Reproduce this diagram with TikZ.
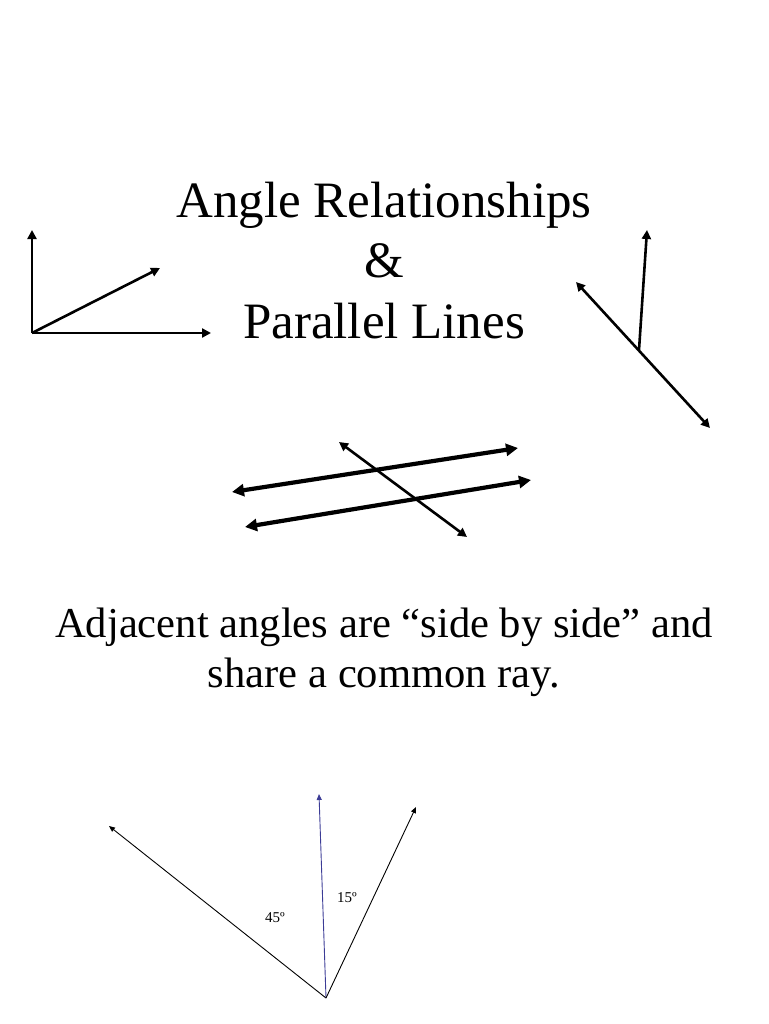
\documentclass[tikz,border=0pt]{standalone}
\usepackage{fontspec}
\setmainfont{Liberation Serif}
\usetikzlibrary{arrows.meta}
\definecolor{raynavy}{RGB}{60,60,150}
\tikzset{
  rayarrow/.style={line width=2.6pt,-{Triangle[length=9pt,width=9pt]}},
  linearrow/.style={line width=2.6pt,{Triangle[length=9pt,width=9pt]}-{Triangle[length=9pt,width=9pt]}},
  parline/.style={line width=4.2pt,{Triangle[length=12pt,width=12pt]}-{Triangle[length=12pt,width=12pt]}},
  thinray/.style={line width=0.9pt,-{Triangle[length=6pt,width=5pt]}},
  textline/.style={anchor=base,inner sep=0pt}
}
\begin{document}
\begin{tikzpicture}[x=1pt,y=-1pt]
\useasboundingbox (0,0) rectangle (768,1024);
% title
\node[textline,font=\fontsize{51}{60}\selectfont] (title1) at (384,218) {Angle Relationships};
\node[textline,font=\fontsize{51}{60}\selectfont] (title2) at (384,277) {\&};
\node[textline,font=\fontsize{51}{60}\selectfont] (title3) at (384,338) {Parallel Lines};
% angle top left
\coordinate (tlv) at (32,333);
\coordinate (tlup) at (32,230);
\coordinate (tlright) at (211,333);
\coordinate (tldiag) at (160,268);
\draw[rayarrow] (tlv) -- (tlup);
\draw[rayarrow] (tlv) -- (tlright);
\draw[rayarrow] (tlv) -- (tldiag);
% line and ray top right
\coordinate (trA) at (576,282);
\coordinate (trB) at (710,428);
\coordinate (trv) at (639,350);
\coordinate (trup) at (647,230);
\draw[linearrow] (trA) -- (trB);
\draw[rayarrow] (trv) -- (trup);
% parallel lines and transversal
\coordinate (p1a) at (232,492);
\coordinate (p1b) at (518,448);
\coordinate (p2a) at (245,527);
\coordinate (p2b) at (531,480);
\coordinate (ta) at (339,442);
\coordinate (tb) at (467,537);
\draw[parline] (p1a) -- (p1b);
\draw[parline] (p2a) -- (p2b);
\draw[linearrow] (ta) -- (tb);
% text
\node[textline,font=\fontsize{42.6}{51}\selectfont] (body1) at (384,637) {Adjacent angles are “side by side” and};
\node[textline,font=\fontsize{42.6}{51}\selectfont] (body2) at (384,687) {share a common ray.};
% adjacent angles
\coordinate (av) at (326,998);
\coordinate (aleft) at (109,826);
\coordinate (amid) at (319,794);
\coordinate (aright) at (416,807);
\draw[thinray] (av) -- (aleft);
\draw[thinray,raynavy] (av) -- (amid);
\draw[thinray] (av) -- (aright);
\node[font=\fontsize{15}{18}\selectfont] (lab45) at (275,918) {45º};
\node[font=\fontsize{15}{18}\selectfont] (lab15) at (347,898) {15º};
\end{tikzpicture}
\end{document}
